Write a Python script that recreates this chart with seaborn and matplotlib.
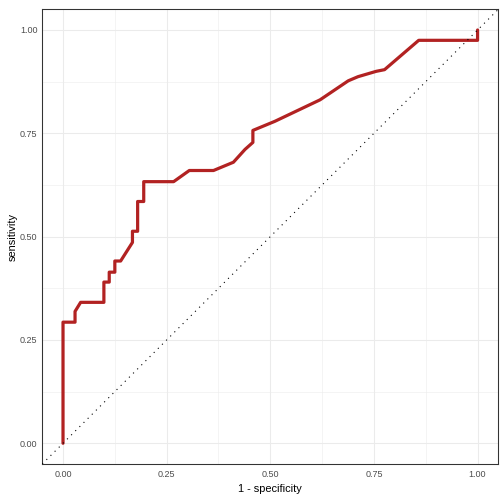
import matplotlib
matplotlib.use("Agg")
import matplotlib.pyplot as plt
import seaborn as sns
import pandas as pd
from matplotlib.ticker import AutoMinorLocator

# ROC curve points
fpr = [0.0, 0.0, 0.029, 0.029, 0.0425, 0.0986, 0.0986, 0.1115, 0.1115, 0.125,
       0.125, 0.139, 0.1675, 0.1675, 0.180, 0.180, 0.1947, 0.1947, 0.2668, 0.3046,
       0.363, 0.411, 0.439, 0.458, 0.458, 0.511, 0.62, 0.688, 0.7115, 0.7556,
       0.7756, 0.858, 1.0, 1.0]
tpr = [0.0, 0.293, 0.293, 0.319, 0.341, 0.341, 0.390, 0.390, 0.414, 0.414,
       0.441, 0.441, 0.486, 0.513, 0.513, 0.585, 0.585, 0.633, 0.633, 0.660,
       0.660, 0.680, 0.711, 0.728, 0.757, 0.779, 0.831, 0.877, 0.887, 0.900,
       0.904, 0.975, 0.975, 1.0]
ticks = [0.0, 0.25, 0.5, 0.75, 1.0]
tick_labels = ["0.00", "0.25", "0.50", "0.75", "1.00"]

df = pd.DataFrame({"fpr": fpr, "tpr": tpr})

sns.set_theme(style="white")
plt.rcParams["font.family"] = ["Liberation Sans", "DejaVu Sans"]

fig = plt.figure(figsize=(7, 7), dpi=72)
ax = fig.add_axes([0.0839, 0.0795, 0.9048, 0.9020])

sns.lineplot(data=df, x="fpr", y="tpr", sort=False, estimator=None,
             color="#B22222", linewidth=3.2, ax=ax, zorder=3)
ax.axline((0, 0), (1, 1), color="black", linewidth=1.1,
          linestyle=(0, (1, 4.3)), zorder=4)

ax.set_xlim(-0.05, 1.05)
ax.set_ylim(-0.05, 1.05)
ax.set_xticks(ticks)
ax.set_xticklabels(tick_labels)
ax.set_yticks(ticks)
ax.set_yticklabels(tick_labels)
ax.xaxis.set_minor_locator(AutoMinorLocator(2))
ax.yaxis.set_minor_locator(AutoMinorLocator(2))

ax.grid(which="major", color="#EBEBEB", linewidth=1.07, zorder=0)
ax.grid(which="minor", color="#EBEBEB", linewidth=0.53, zorder=0)
ax.set_axisbelow(True)
for s in ax.spines.values():
    s.set_color("#333333")
    s.set_linewidth(1.07)

ax.tick_params(which="major", length=2.75, width=1.07, color="#333333",
               labelsize=9, labelcolor="#4D4D4D", pad=2.2)
ax.tick_params(axis="x", which="major", pad=3.3)
ax.tick_params(which="minor", length=0)
ax.set_xlabel("1 - specificity", fontsize=11, color="black", labelpad=5)
ax.set_ylabel("sensitivity", fontsize=11, color="black", labelpad=2)

fig.savefig("out.png", dpi=72, facecolor="white")
